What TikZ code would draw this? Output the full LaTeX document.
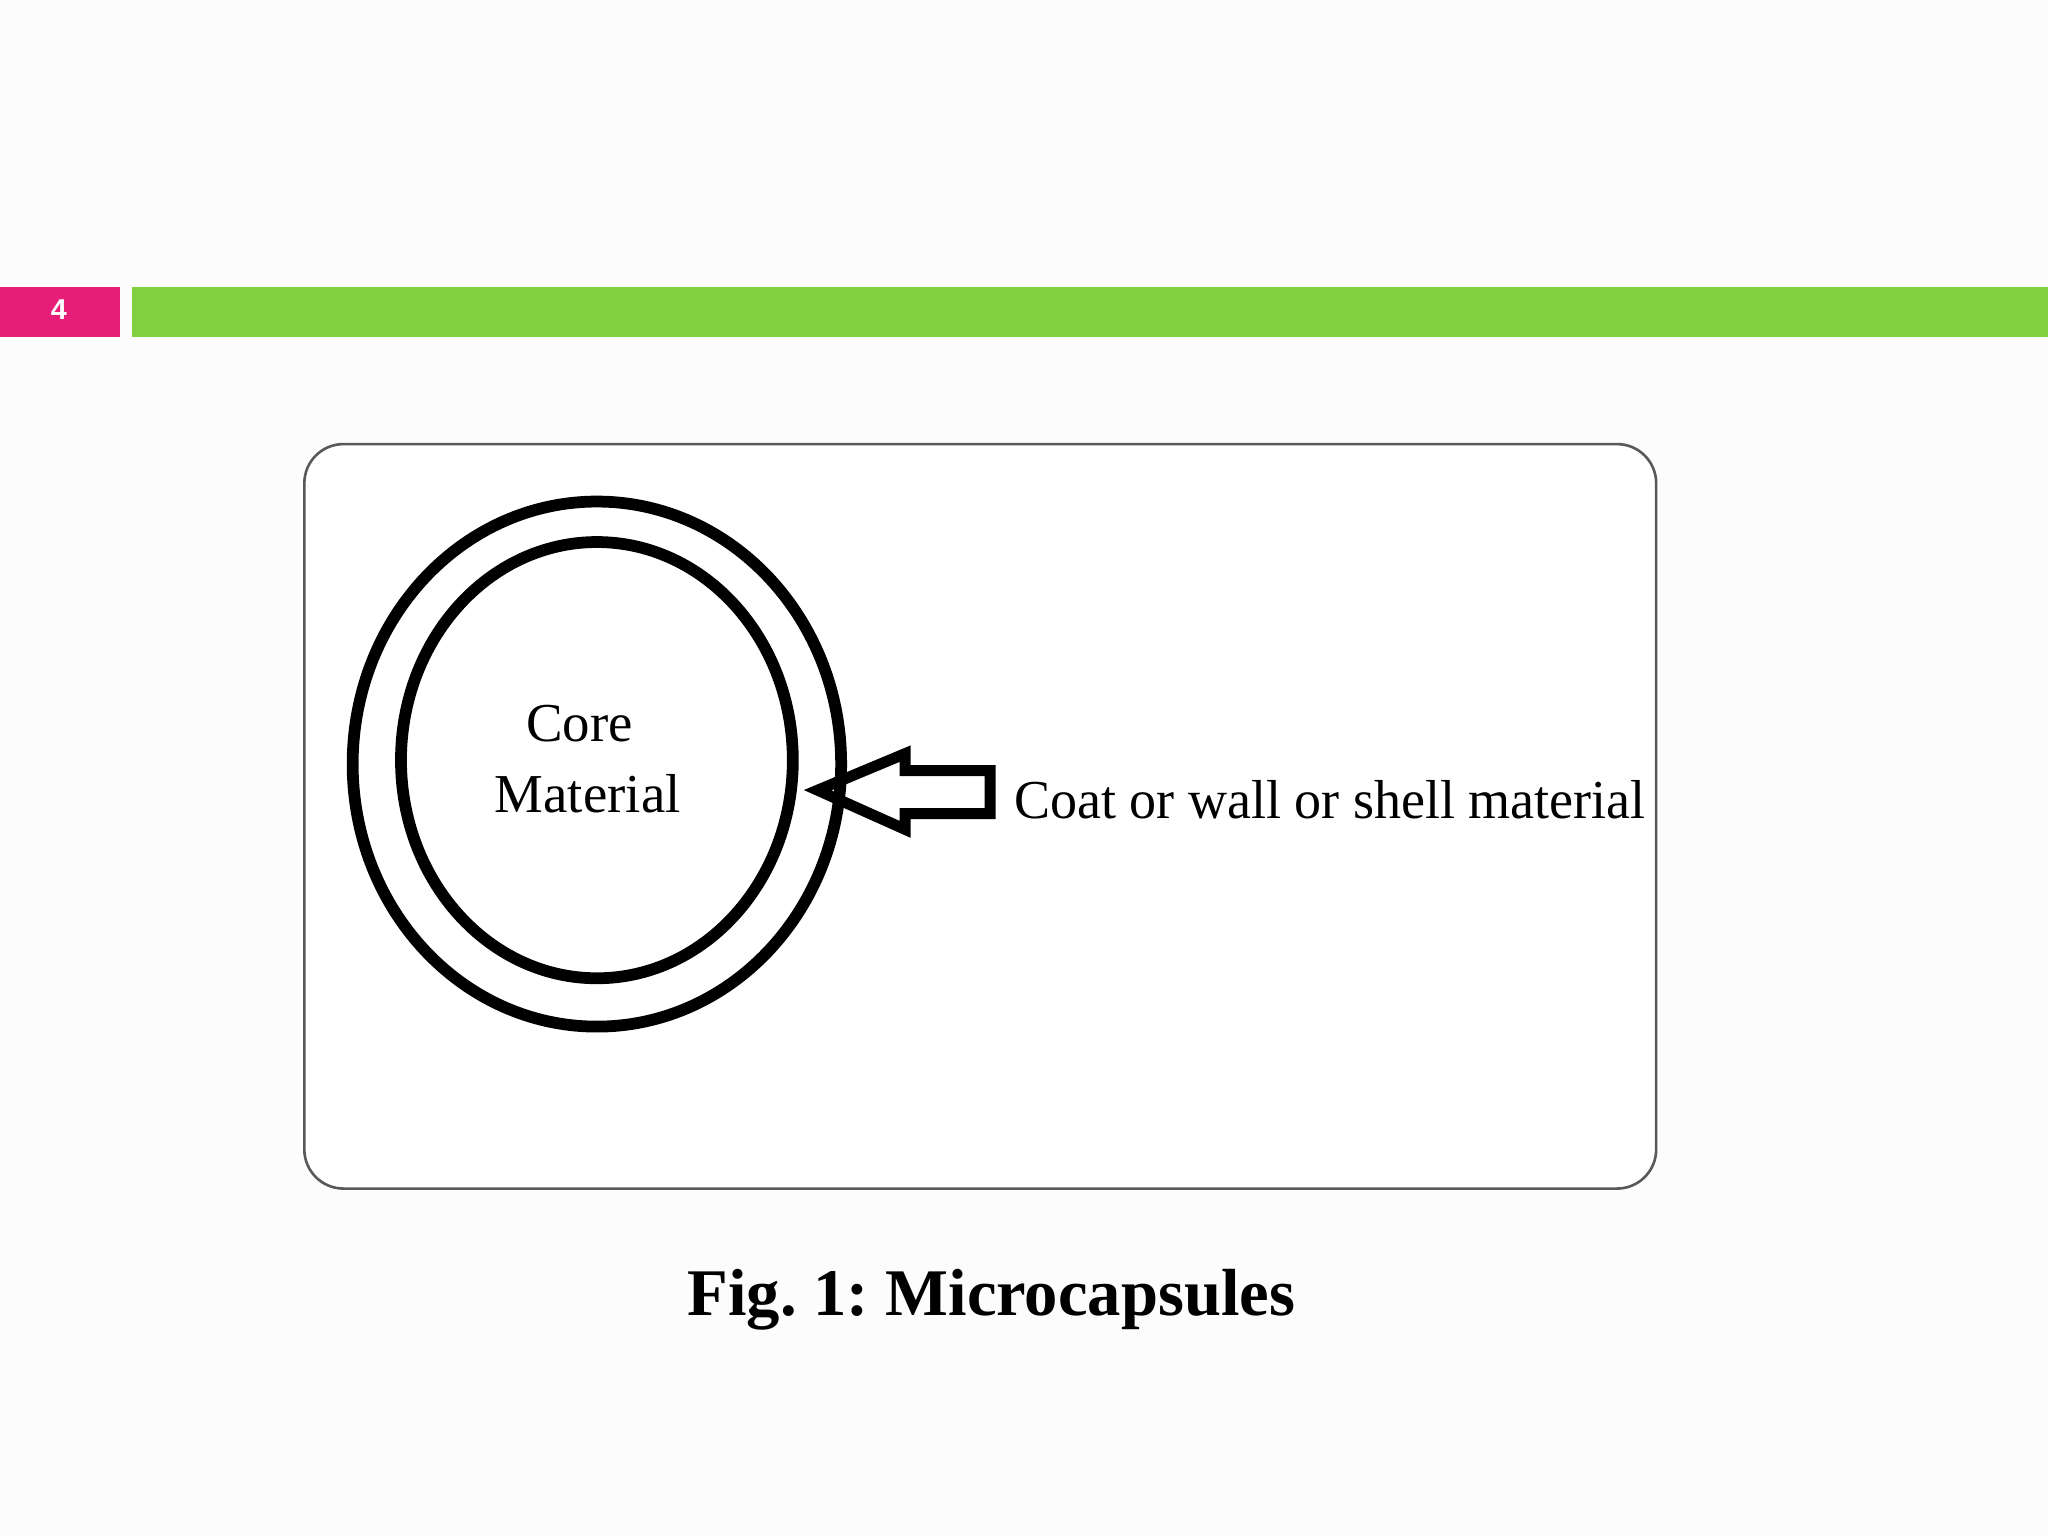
\documentclass[tikz,border=0pt]{standalone}
\usepackage{fontspec}
\setmainfont{Liberation Serif}
\setsansfont{Liberation Sans}
\frenchspacing
\begin{document}
\begin{tikzpicture}[x=0.5pt,y=-0.5pt,
  ring/.style={draw=black,line width=4.5pt},
  lbl/.style={font=\fontsize{21}{24}\selectfont,inner sep=0pt}]
\useasboundingbox[fill=white!98!gray] (0,0) rectangle (1568,1176);
\fill[fill={rgb,255:red,230;green,30;blue,120}] (0,220) rectangle (92,258);
\node[font=\sffamily\bfseries\fontsize{11}{12}\selectfont,text=white] (num) at (45,237) {4};
\fill[fill={rgb,255:red,128;green,208;blue,64}] (101,220) rectangle (1568,258);
\draw[draw=gray!70!black,line width=1pt,rounded corners=15pt,fill=white] (233,340) rectangle (1268,910);
\draw[ring] (457,585) ellipse [x radius=187,y radius=201];
\draw[ring] (457,582) ellipse [x radius=150,y radius=167];
\node[lbl,align=center] (core) at (450,581) {\hspace*{-0.3em}Core\\[3pt]Material};
\draw[draw=black,line width=4.2pt,line join=miter] (626,605) -- (693,577) -- (693,590) -- (758,590) -- (758,623) -- (693,623) -- (693,635) -- cycle;
\node[lbl,anchor=west,xscale=0.985,transform shape] (coat) at (776,612) {Coat or wall or shell material};
\node[font=\bfseries\fontsize{25.5}{28}\selectfont] (cap) at (759,995) {Fig. 1: Microcapsules};
\end{tikzpicture}
\end{document}
